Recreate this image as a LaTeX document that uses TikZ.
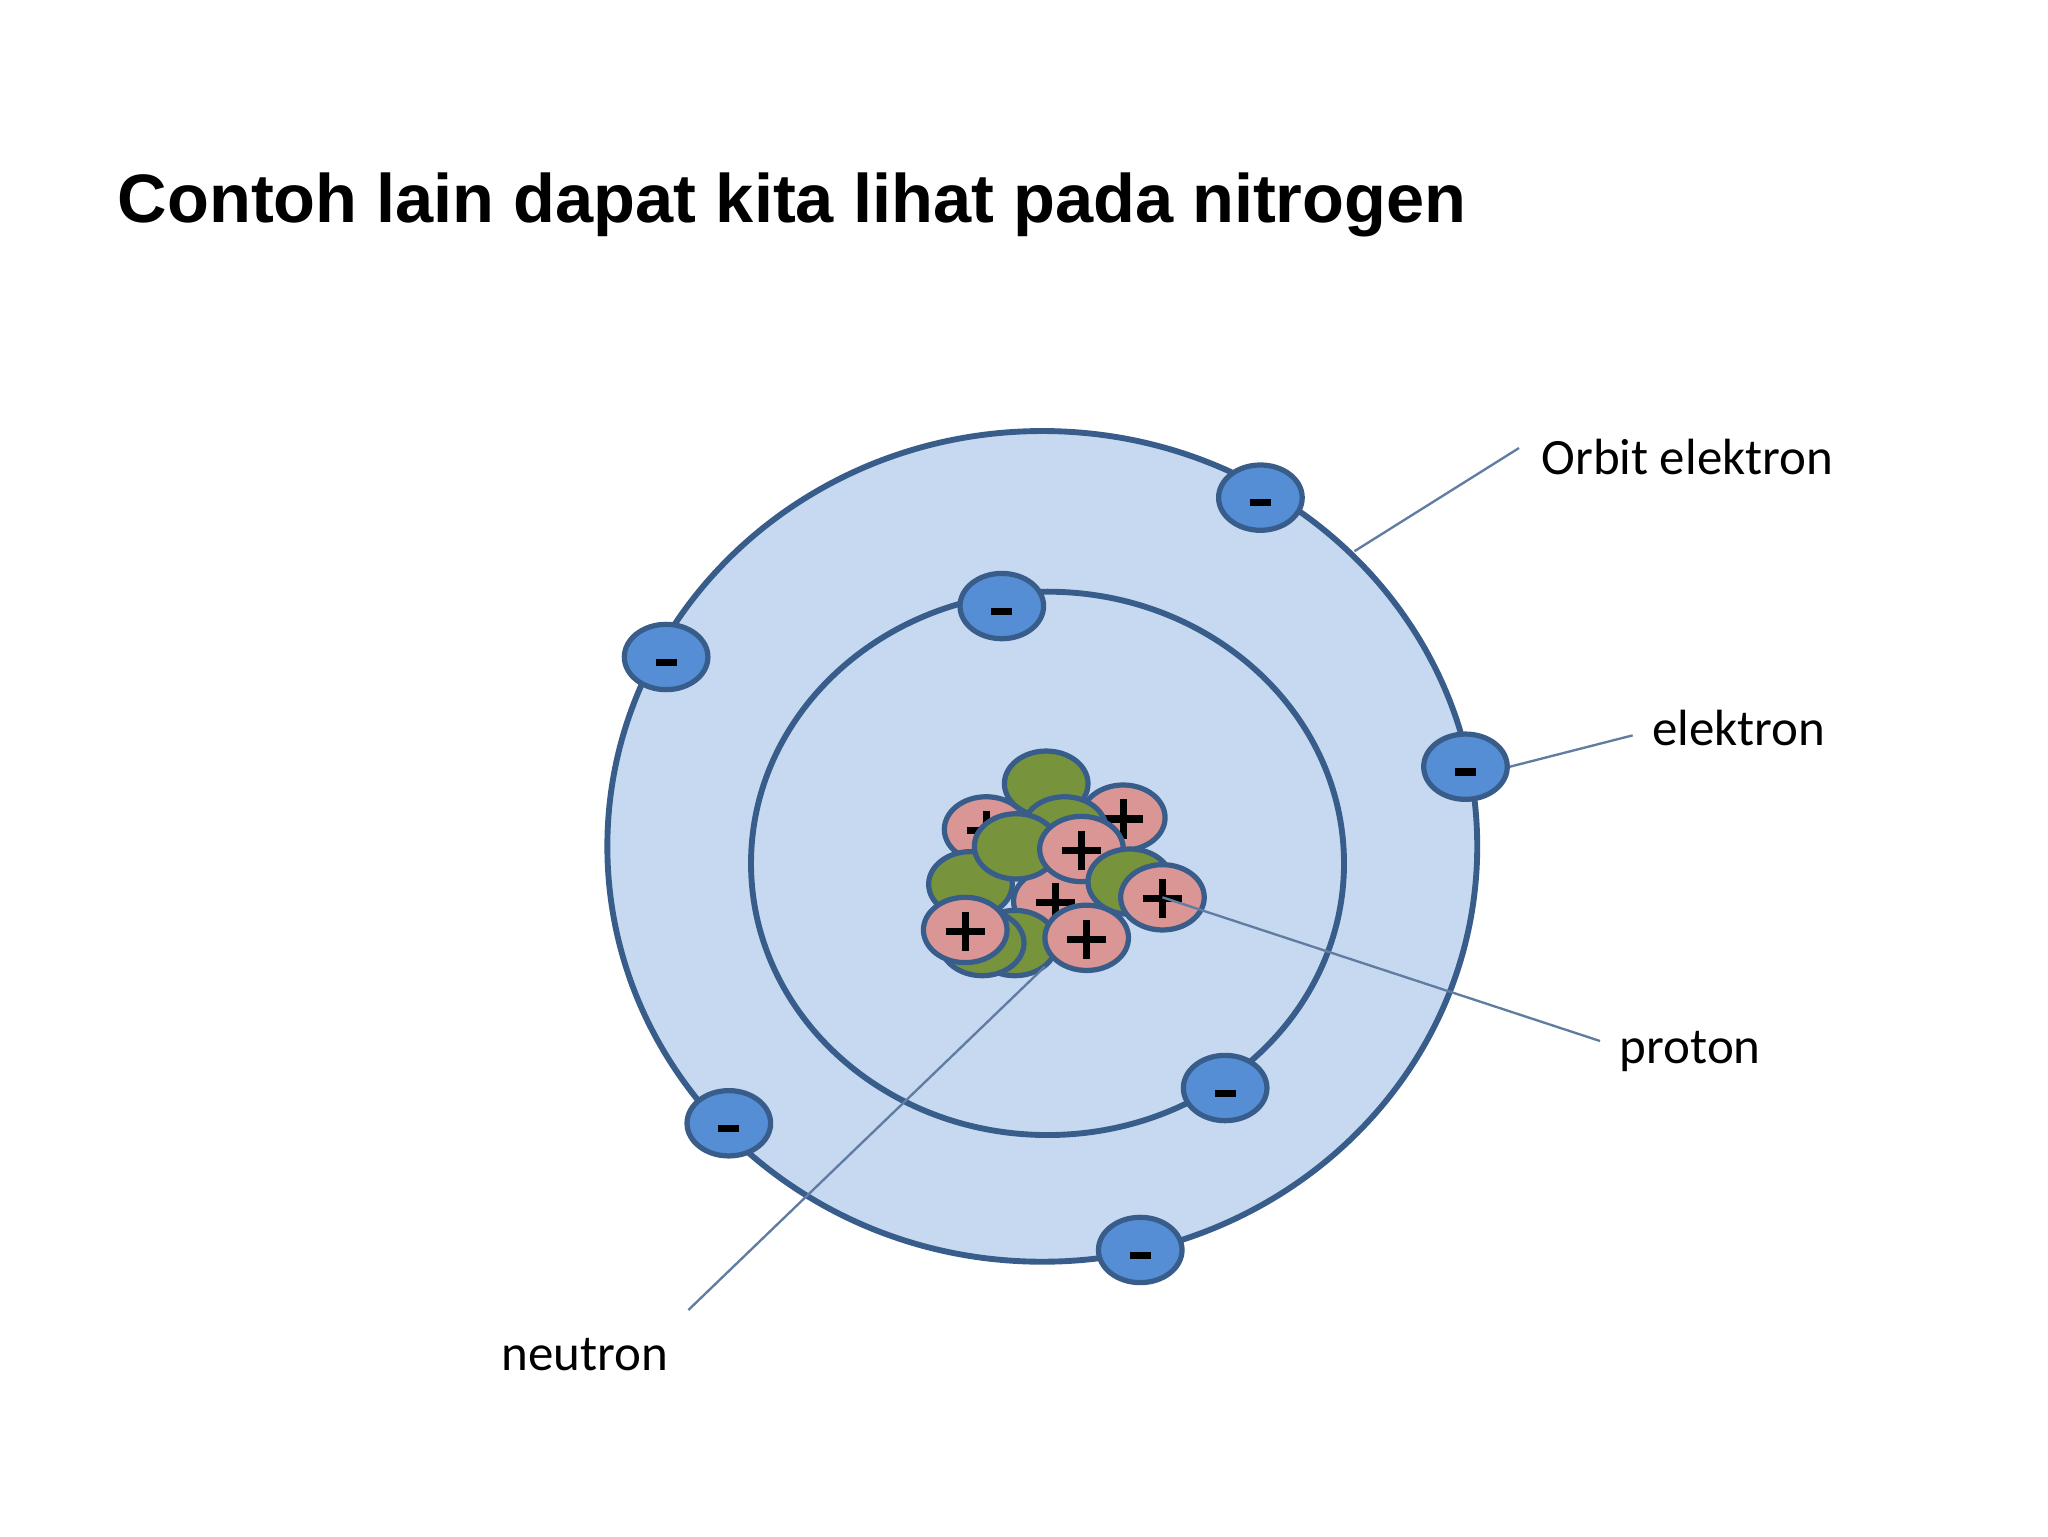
\documentclass[tikz,border=0pt]{standalone}
\usetikzlibrary{shapes.geometric}
\usepackage{fontspec}
\setmainfont{Carlito}
\newfontfamily\titlefont{Liberation Sans}
\begin{document}
\begin{tikzpicture}[x=1pt,y=-1pt,
 orb/.style={line width=4.5pt},
 el/.style={ellipse,line width=4pt,minimum width=64pt,minimum height=50pt,inner sep=0pt},
 pr/.style={ellipse,line width=4pt,minimum width=64pt,minimum height=50pt,inner sep=0pt},
 ne/.style={ellipse,line width=4pt,minimum width=64pt,minimum height=50pt},
 plus/.style={draw=black,line width=5.5pt},
 lead/.style={draw=edge!80,line width=1.8pt},
 lab/.style={font=\fontsize{39}{39}\selectfont,anchor=base west,inner sep=0pt}]
\definecolor{orbfill}{RGB}{198,217,240}
\definecolor{elc}{RGB}{85,142,213}
\definecolor{prc}{RGB}{217,150,148}
\definecolor{nec}{RGB}{119,147,60}
\definecolor{edge}{RGB}{56,93,138}
\tikzset{el/.append style={fill=elc,draw=edge},pr/.append style={fill=prc,draw=edge},ne/.append style={fill=nec,draw=edge},orb/.append style={draw=edge}}
\newcommand\pluss[1]{\draw[plus] ([xshift=-15pt,yshift=-1pt]#1.center) -- ([xshift=15pt,yshift=-1pt]#1.center) ([yshift=-16pt]#1.center) -- ([yshift=14pt]#1.center);}
\newcommand\minuss[1]{\draw[plus] ([xshift=-8pt,yshift=-4pt]#1.center) -- ([xshift=8pt,yshift=-4pt]#1.center);}
\useasboundingbox (0,0) rectangle (1568,1176);
\node[font=\titlefont\bfseries\fontsize{52.5}{52.5}\selectfont,anchor=base west,inner sep=0pt] (title) at (90,170) {Contoh lain dapat kita lihat pada nitrogen};
\draw[orb,fill=orbfill] (798,648) ellipse [x radius=333,y radius=318];
\draw[orb] (802,661) ellipse [x radius=227,y radius=208];
\node[ne] (n1) at (801,600) {};
\node[pr] (p1) at (860,626) {}; \pluss{p1}
\node[pr] (p2) at (755,635) {}; \pluss{p2}
\node[ne] (n2) at (815,635) {};
\node[ne] (n3) at (743,677) {};
\node[pr] (p3) at (808,690) {}; \pluss{p3}
\node[ne] (n4) at (778,648) {};
\node[pr] (p4) at (828,650) {}; \pluss{p4}
\node[ne] (n5) at (865,675) {};
\node[ne] (n6) at (777,722) {};
\node[ne] (n7) at (752,722) {};
\node[pr] (p5) at (739,712) {}; \pluss{p5}
\node[pr] (p6) at (832,718) {}; \pluss{p6}
\node[pr] (p7) at (890,687) {}; \pluss{p7}
\foreach \n/\p in {e1/{965,381},e2/{767,464},e3/{510,503},e4/{1122,587},e5/{558,860},e6/{938,833},e7/{873,957}}
  {\node[el] (\n) at (\p) {}; \minuss{\n}}
\node[lab] (lo) at (1180,363) {Orbit elektron};
\node[lab] (le) at (1265,571) {elektron};
\node[lab] (lp) at (1240,814) {proton};
\node[lab] (ln) at (384,1049) {neutron};
\coordinate (c1) at (1163,343); \coordinate (c2) at (1037,422);
\coordinate (c3) at (1250,563); \coordinate (c5) at (1225,797);
\coordinate (c7) at (527,1003); \coordinate (c8) at (800,740);
\draw[lead] (c1) -- (c2);
\draw[lead] (c3) -- (e4.east);
\draw[lead] (c5) -- (p7.center);
\draw[lead] (c7) -- (c8);
\end{tikzpicture}
\end{document}
